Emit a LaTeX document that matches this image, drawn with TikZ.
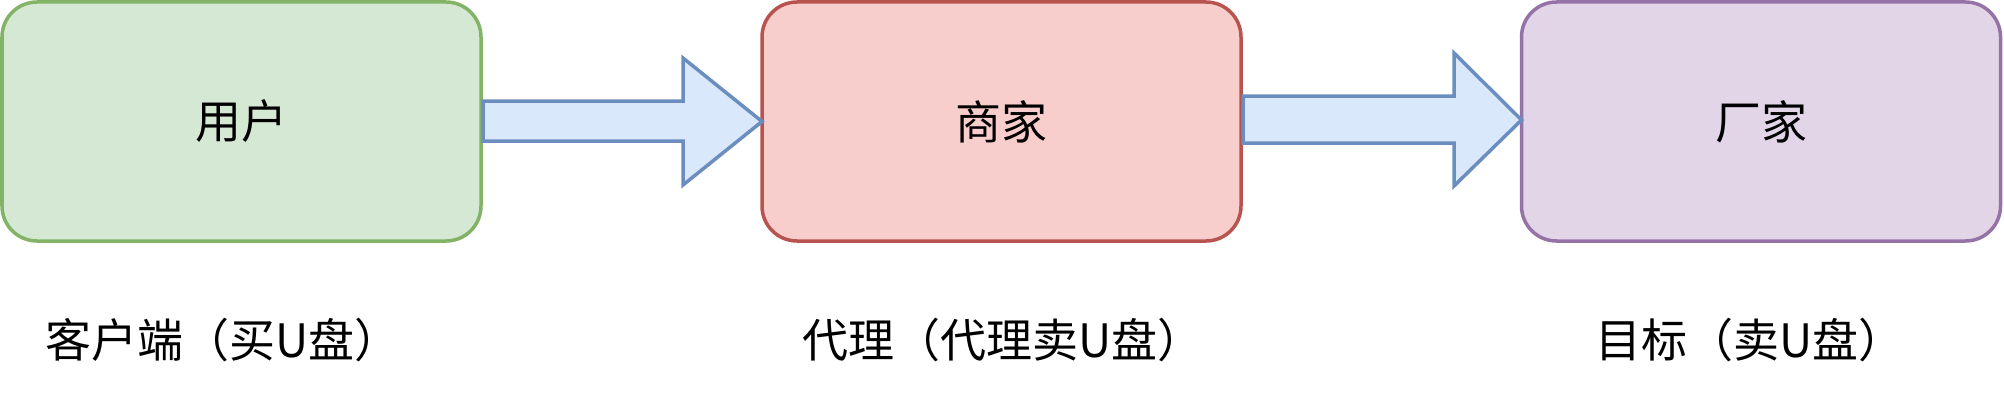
\documentclass[tikz,border=0pt]{standalone}
\usepackage{fontspec}
\newfontfamily\cjk{Noto Sans CJK SC}
\usetikzlibrary{calc}
\definecolor{gfill}{HTML}{D5E8D4}\definecolor{gline}{HTML}{82B366}
\definecolor{rfill}{HTML}{F8CECC}\definecolor{rline}{HTML}{B85450}
\definecolor{pfill}{HTML}{E1D5E7}\definecolor{pline}{HTML}{9673A6}
\definecolor{bfill}{HTML}{DAE8FC}\definecolor{bline}{HTML}{6C8EBF}
\tikzset{
  box/.style={draw, rounded corners=35pt, line width=3.5pt, minimum width=479pt, minimum height=239pt, inner sep=0pt, outer sep=0pt, font=\cjk\fontsize{46}{55}\selectfont},
  blockarrow/.style={draw=bline, fill=bfill, line width=3.5pt, line join=miter},
  caption/.style={font=\cjk\fontsize{46}{55}\selectfont, inner sep=0pt}
}
\begin{document}
\begin{tikzpicture}[x=1pt,y=-1pt]
\useasboundingbox (0,0) rectangle (2004,404);
\node[box, fill=gfill, draw=gline] (b1) at (241.5,121.5) {用户};
\node[box, fill=rfill, draw=rline] (b2) at (1001.5,121.5) {商家};
\node[box, fill=pfill, draw=pline] (b3) at (1761,121.5) {厂家};
% arrow 1
\draw[blockarrow] ($(b1.east)+(2,-20.5)$) -- (683,101) -- (683,58) -- (b2.west) -- (683,185) -- (683,141) -- ($(b1.east)+(2,19.5)$) -- cycle;
% arrow 2
\draw[blockarrow] ($(b2.east)+(2,-25.5)$) -- (1454,96) -- (1454,53) -- ($(b3.west)+(0,-1.5)$) -- (1454,186) -- (1454,143) -- ($(b2.east)+(2,21.5)$) -- cycle;
\node[caption] (c1) at (223,340) {客户端（买U盘）};
\node[caption] (c2) at (1003,340) {代理（代理卖U盘）};
\node[caption] (c3) at (1750,340) {目标（卖U盘）};
\end{tikzpicture}
\end{document}
